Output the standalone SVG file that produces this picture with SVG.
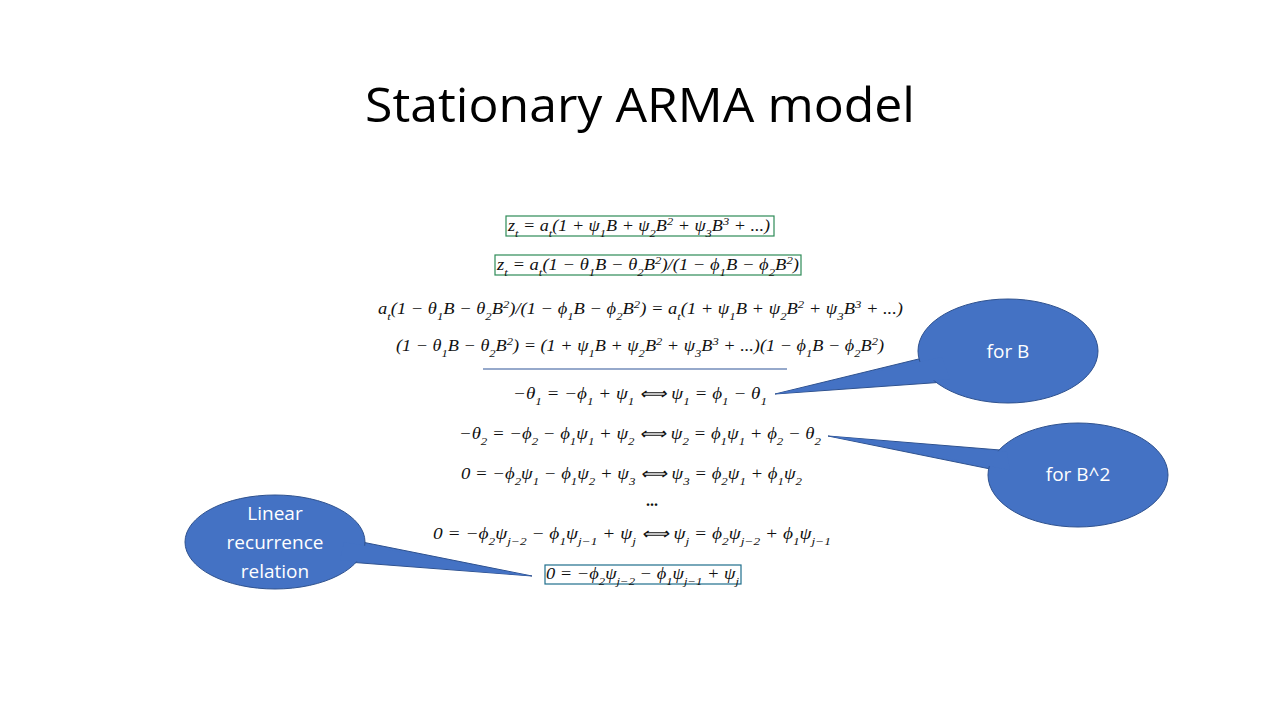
<svg xmlns="http://www.w3.org/2000/svg" width="1280" height="720" viewBox="0 0 1280 720">
<style>
.m{font-family:"Liberation Serif",serif;font-size:16px;fill:#111;font-style:italic}
.s{font-size:11px;font-style:italic}
.bx{fill:none;stroke-width:1.2}
.co{fill:#4472C4;stroke:#2F528F;stroke-width:1}
.cf{fill:#4472C4;stroke:none}
.cl{font-family:"Open Sans","Liberation Sans",sans-serif;font-size:19px;fill:#fff;text-anchor:middle}
</style>
<rect width="1280" height="720" fill="#fff"/>
<text x="640" y="122" font-family="'Open Sans','Liberation Sans',sans-serif" font-size="48" text-anchor="middle" textLength="550" lengthAdjust="spacingAndGlyphs" fill="#000">Stationary ARMA model</text>

<g id="eq1">
<rect class="bx" x="506" y="216" width="268" height="20" stroke="#2E8B57"/>
<text class="m" x="508" y="231" textLength="262" lengthAdjust="spacingAndGlyphs">z<tspan class="s" baseline-shift="sub">t</tspan> = a<tspan class="s" baseline-shift="sub">t</tspan>(1 + ψ<tspan class="s" baseline-shift="sub">1</tspan>B + ψ<tspan class="s" baseline-shift="sub">2</tspan>B<tspan class="s" baseline-shift="super">2</tspan> + ψ<tspan class="s" baseline-shift="sub">3</tspan>B<tspan class="s" baseline-shift="super">3</tspan> + ...)</text>
</g>
<g id="eq2">
<rect class="bx" x="495" y="255" width="306" height="20" stroke="#2E8B57"/>
<text class="m" x="497" y="270" textLength="302" lengthAdjust="spacingAndGlyphs">z<tspan class="s" baseline-shift="sub">t</tspan> = a<tspan class="s" baseline-shift="sub">t</tspan>(1 − θ<tspan class="s" baseline-shift="sub">1</tspan>B − θ<tspan class="s" baseline-shift="sub">2</tspan>B<tspan class="s" baseline-shift="super">2</tspan>)/(1 − ϕ<tspan class="s" baseline-shift="sub">1</tspan>B − ϕ<tspan class="s" baseline-shift="sub">2</tspan>B<tspan class="s" baseline-shift="super">2</tspan>)</text>
</g>
<g id="eq3">
<text class="m" x="378" y="314" textLength="525" lengthAdjust="spacingAndGlyphs">a<tspan class="s" baseline-shift="sub">t</tspan>(1 − θ<tspan class="s" baseline-shift="sub">1</tspan>B − θ<tspan class="s" baseline-shift="sub">2</tspan>B<tspan class="s" baseline-shift="super">2</tspan>)/(1 − ϕ<tspan class="s" baseline-shift="sub">1</tspan>B − ϕ<tspan class="s" baseline-shift="sub">2</tspan>B<tspan class="s" baseline-shift="super">2</tspan>) = a<tspan class="s" baseline-shift="sub">t</tspan>(1 + ψ<tspan class="s" baseline-shift="sub">1</tspan>B + ψ<tspan class="s" baseline-shift="sub">2</tspan>B<tspan class="s" baseline-shift="super">2</tspan> + ψ<tspan class="s" baseline-shift="sub">3</tspan>B<tspan class="s" baseline-shift="super">3</tspan> + ...)</text>
</g>
<g id="eq4">
<text class="m" x="396" y="351" textLength="488" lengthAdjust="spacingAndGlyphs">(1 − θ<tspan class="s" baseline-shift="sub">1</tspan>B − θ<tspan class="s" baseline-shift="sub">2</tspan>B<tspan class="s" baseline-shift="super">2</tspan>) = (1 + ψ<tspan class="s" baseline-shift="sub">1</tspan>B + ψ<tspan class="s" baseline-shift="sub">2</tspan>B<tspan class="s" baseline-shift="super">2</tspan> + ψ<tspan class="s" baseline-shift="sub">3</tspan>B<tspan class="s" baseline-shift="super">3</tspan> + ...)(1 − ϕ<tspan class="s" baseline-shift="sub">1</tspan>B − ϕ<tspan class="s" baseline-shift="sub">2</tspan>B<tspan class="s" baseline-shift="super">2</tspan>)</text>
</g>
<line x1="483" y1="369" x2="787" y2="369" stroke="#2F5597" stroke-width="1.2"/>
<g id="eq5">
<text class="m" x="513" y="399" textLength="254" lengthAdjust="spacingAndGlyphs">−θ<tspan class="s" baseline-shift="sub">1</tspan> = −ϕ<tspan class="s" baseline-shift="sub">1</tspan> + ψ<tspan class="s" baseline-shift="sub">1</tspan>  ⟺  ψ<tspan class="s" baseline-shift="sub">1</tspan> = ϕ<tspan class="s" baseline-shift="sub">1</tspan> − θ<tspan class="s" baseline-shift="sub">1</tspan></text>
</g>
<g id="eq6">
<text class="m" x="459" y="439" textLength="362" lengthAdjust="spacingAndGlyphs">−θ<tspan class="s" baseline-shift="sub">2</tspan> = −ϕ<tspan class="s" baseline-shift="sub">2</tspan> − ϕ<tspan class="s" baseline-shift="sub">1</tspan>ψ<tspan class="s" baseline-shift="sub">1</tspan> + ψ<tspan class="s" baseline-shift="sub">2</tspan>  ⟺  ψ<tspan class="s" baseline-shift="sub">2</tspan> = ϕ<tspan class="s" baseline-shift="sub">1</tspan>ψ<tspan class="s" baseline-shift="sub">1</tspan> + ϕ<tspan class="s" baseline-shift="sub">2</tspan> − θ<tspan class="s" baseline-shift="sub">2</tspan></text>
</g>
<g id="eq7">
<text class="m" x="461" y="479" textLength="341" lengthAdjust="spacingAndGlyphs">0 = −ϕ<tspan class="s" baseline-shift="sub">2</tspan>ψ<tspan class="s" baseline-shift="sub">1</tspan> − ϕ<tspan class="s" baseline-shift="sub">1</tspan>ψ<tspan class="s" baseline-shift="sub">2</tspan> + ψ<tspan class="s" baseline-shift="sub">3</tspan>  ⟺  ψ<tspan class="s" baseline-shift="sub">3</tspan> = ϕ<tspan class="s" baseline-shift="sub">2</tspan>ψ<tspan class="s" baseline-shift="sub">1</tspan> + ϕ<tspan class="s" baseline-shift="sub">1</tspan>ψ<tspan class="s" baseline-shift="sub">2</tspan></text>
</g>
<text class="m" x="652" y="506" text-anchor="middle" style="font-style:normal;font-weight:bold">...</text>
<g id="eq8">
<text class="m" x="433" y="539" textLength="398" lengthAdjust="spacingAndGlyphs">0 = −ϕ<tspan class="s" baseline-shift="sub">2</tspan>ψ<tspan class="s" baseline-shift="sub">j−2</tspan> − ϕ<tspan class="s" baseline-shift="sub">1</tspan>ψ<tspan class="s" baseline-shift="sub">j−1</tspan> + ψ<tspan class="s" baseline-shift="sub">j</tspan>  ⟺  ψ<tspan class="s" baseline-shift="sub">j</tspan> = ϕ<tspan class="s" baseline-shift="sub">2</tspan>ψ<tspan class="s" baseline-shift="sub">j−2</tspan> + ϕ<tspan class="s" baseline-shift="sub">1</tspan>ψ<tspan class="s" baseline-shift="sub">j−1</tspan></text>
</g>
<g id="eq9">
<rect class="bx" x="545" y="565" width="196" height="19" stroke="#1F6E8C"/>
<text class="m" x="546" y="579" textLength="193" lengthAdjust="spacingAndGlyphs">0 = −ϕ<tspan class="s" baseline-shift="sub">2</tspan>ψ<tspan class="s" baseline-shift="sub">j−2</tspan> − ϕ<tspan class="s" baseline-shift="sub">1</tspan>ψ<tspan class="s" baseline-shift="sub">j−1</tspan> + ψ<tspan class="s" baseline-shift="sub">j</tspan></text>
</g>

<g id="callout-forB">
<polygon class="co" points="935,355 775,394 945,382"/>
<ellipse class="co" cx="1008" cy="351" rx="90" ry="52"/>
<polygon class="cf" points="942,357 775,394 950,379"/>
<text class="cl" x="1008" y="358">for B</text>
</g>
<g id="callout-forB2">
<polygon class="co" points="1000,450 828,436 1005,472"/>
<ellipse class="co" cx="1078" cy="475" rx="90" ry="52"/>
<polygon class="cf" points="1007,452 828,436 1010,470"/>
<text class="cl" x="1078" y="481">for B^2</text>
</g>
<g id="callout-linear">
<polygon class="co" points="352,540 532,576 348,562"/>
<ellipse class="co" cx="275" cy="542" rx="90" ry="47"/>
<polygon class="cf" points="344,542 532,576 340,560"/>
<text class="cl" x="275" y="520">Linear</text>
<text class="cl" x="275" y="549">recurrence</text>
<text class="cl" x="275" y="578">relation</text>
</g>
</svg>
